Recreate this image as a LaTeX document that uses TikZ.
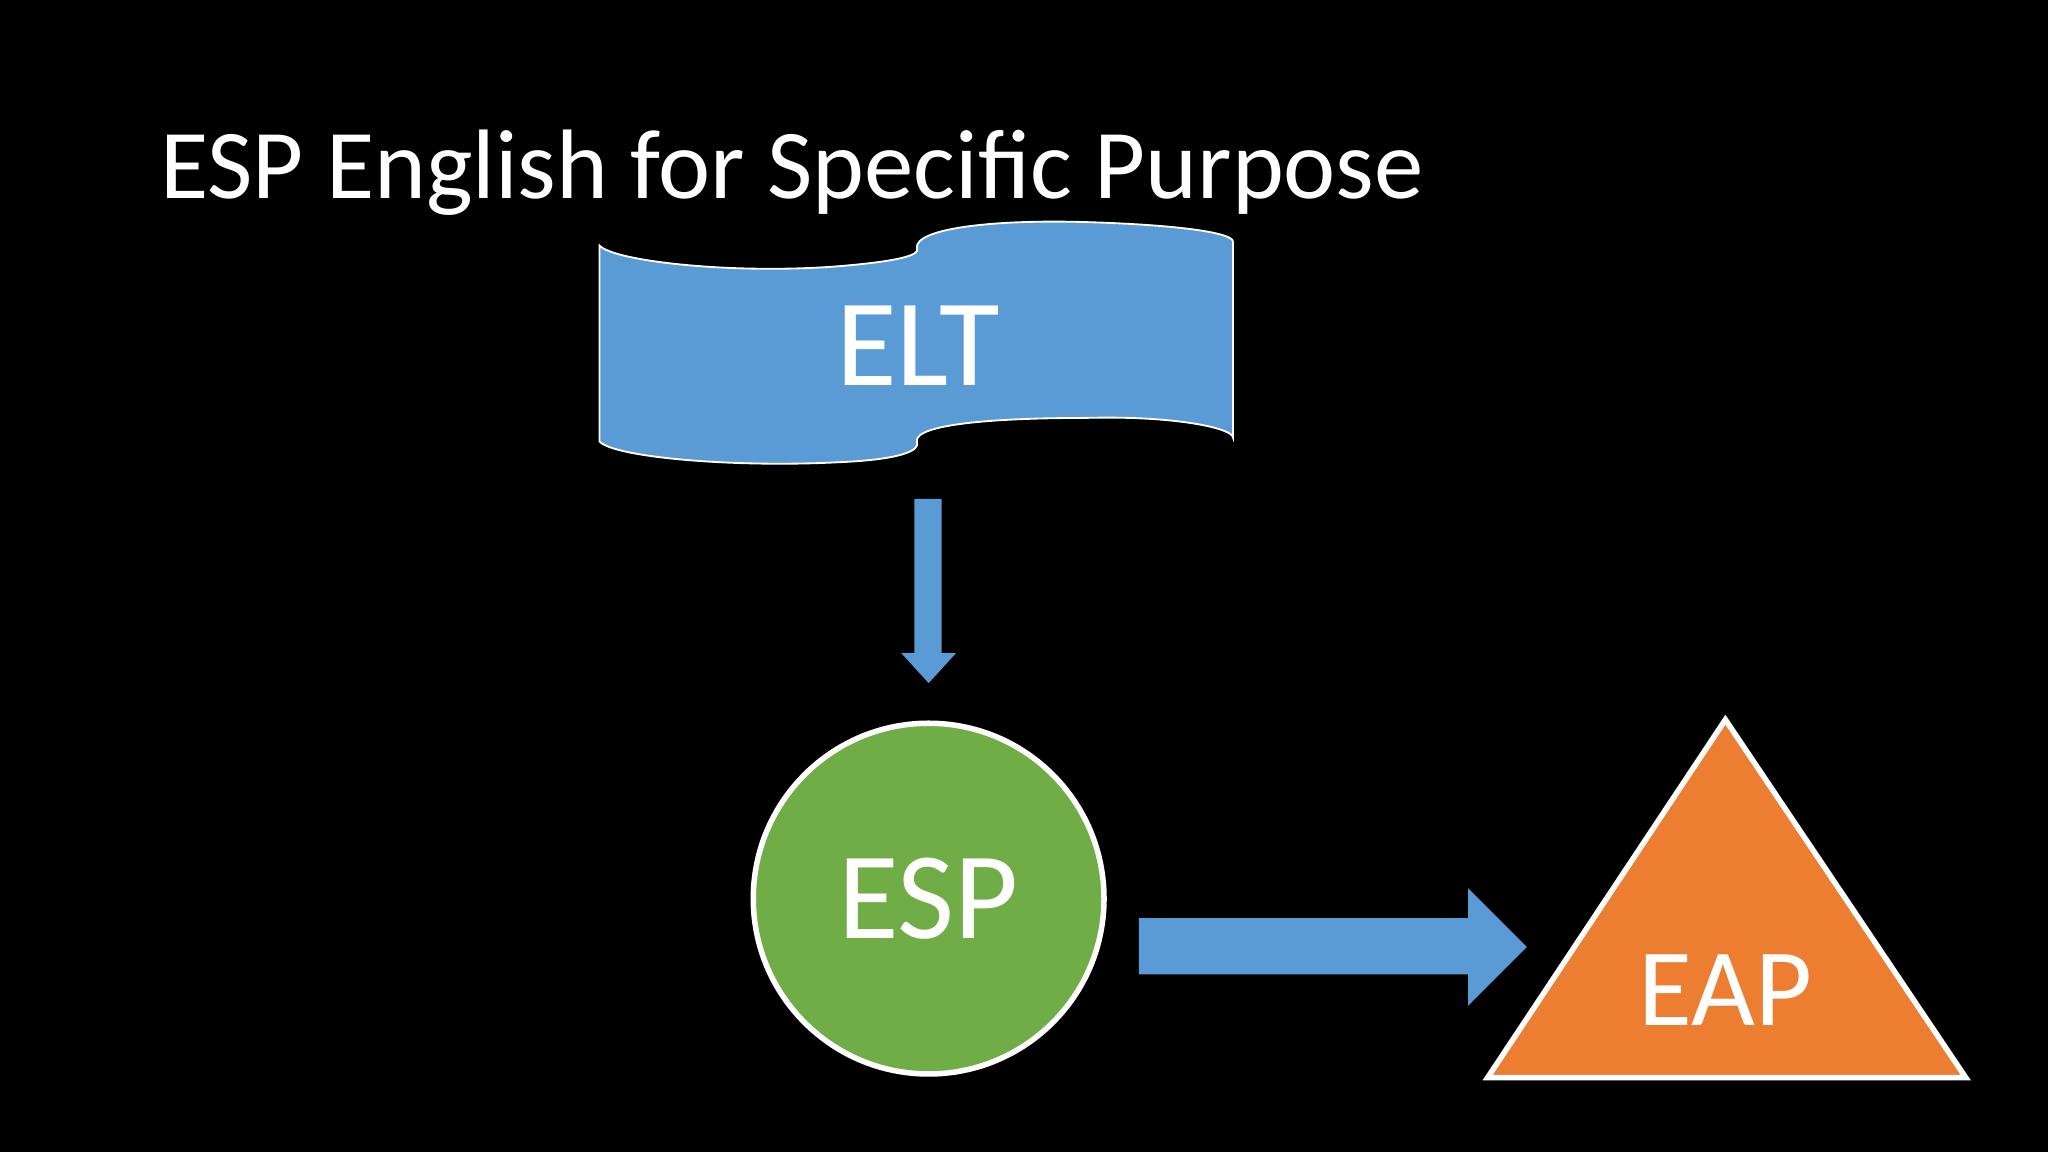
\documentclass[tikz,border=0pt]{standalone}
\usepackage{fontspec}
\setmainfont{Carlito}
\begin{document}
\begin{tikzpicture}[x=0.01cm,y=-0.01cm,
  lbl/.style={text=white,font=\fontsize{20pt}{24pt}\selectfont},
  blueshape/.style={fill={rgb,255:red,91;green,155;blue,213},draw=none}]
\fill[black] (0,0) rectangle (1568,882);
\useasboundingbox (0,0) rectangle (1568,882);
\node[anchor=base west,inner sep=0,text=white,font=\fontsize{21.5pt}{26pt}\selectfont] (title) at (122,152) {ESP English for Specific Purpose};
% wave shape
\path[blueshape,draw=white,line width=0.4pt] (459,188) .. controls (470,200) and (560,210) .. (640,204) .. controls (690,200) and (705,195) .. (702,190)
  .. controls (700,175) and (760,168) .. (830,170) .. controls (900,172) and (944,178) .. (944,185)
  -- (944,335) .. controls (944,328) and (900,318) .. (830,320) .. controls (760,320) and (700,325) .. (702,338)
  .. controls (705,345) and (690,352) .. (640,354) .. controls (560,358) and (470,350) .. (459,338) -- cycle;
\node[lbl,font=\fontsize{27pt}{30pt}\selectfont] (elt) at (703,265) {ELT};
% down arrow
\path[blueshape] (700,382) -- (721,382) -- (721,500) -- (732,500) -- (711,523) -- (690,500) -- (700,500) -- cycle;
% circle
\node[circle,minimum size=268\pgflinewidth,inner sep=0,draw=white,line width=1.2pt,fill={rgb,255:red,112;green,173;blue,71},minimum size=7.56cm*0.355] (esp) at (711,688) {};
\node[lbl,font=\fontsize{27pt}{30pt}\selectfont] at (esp) {ESP};
% right arrow
\path[blueshape] (872,703) -- (1124,703) -- (1124,680) -- (1169,725) -- (1124,770) -- (1124,746) -- (872,746) -- cycle;
% triangle
\path[fill={rgb,255:red,237;green,125;blue,49},draw=white,line width=1.2pt] (1321,551) -- (1505,825) -- (1139,825) -- cycle;
\node[lbl,font=\fontsize{24pt}{28pt}\selectfont] (eap) at (1321,758) {EAP};
\end{tikzpicture}
\end{document}
